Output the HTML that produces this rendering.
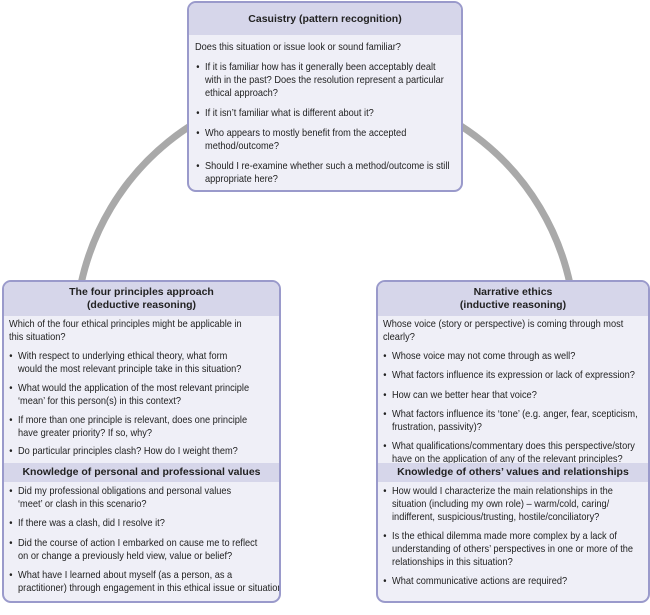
<!DOCTYPE html>
<html><head><meta charset="utf-8"><style>
body{margin:0;width:650px;height:615px;background:#fff;position:relative;overflow:hidden;font-family:"Liberation Sans",sans-serif;color:#222}
.box{position:absolute;background:#efeff7;border:2px solid #9a9acb;border-radius:9px;overflow:hidden}
.hd{position:absolute;left:0;right:0;background:#d6d6ea;font-weight:bold;text-align:center;font-size:10.5px;line-height:13px}
.l{position:absolute;font-size:10.5px;line-height:13px;white-space:nowrap;transform:scaleX(0.88);transform-origin:0 0}
.b::before{content:"•";position:absolute;left:-10px}
</style></head><body>
<svg width="650" height="615" style="position:absolute;left:0;top:0">
<path d="M81,284 A250,250 0 0 1 570,284" fill="none" stroke="#a9a9a9" stroke-width="7"/>
</svg>

<div class="box" style="left:187px;top:1px;width:272px;height:187px">
<div class="hd" style="top:0;height:32px;line-height:32px">Casuistry (pattern recognition)</div>
<div class="l" style="left:6px;top:38px">Does this situation or issue look or sound familiar?</div>
<div class="l b" style="left:16px;top:58px">If it is familiar how has it generally been acceptably dealt</div>
<div class="l" style="left:16px;top:71px">with in the past? Does the resolution represent a particular</div>
<div class="l" style="left:16px;top:84px">ethical approach?</div>
<div class="l b" style="left:16px;top:104px">If it isn’t familiar what is different about it?</div>
<div class="l b" style="left:16px;top:124px">Who appears to mostly benefit from the accepted</div>
<div class="l" style="left:16px;top:137px">method/outcome?</div>
<div class="l b" style="left:16px;top:157px">Should I re-examine whether such a method/outcome is still</div>
<div class="l" style="left:16px;top:170px">appropriate here?</div>
</div>

<div class="box" style="left:2px;top:280px;width:275px;height:319px">
<div class="hd" style="top:0;height:34px;padding-top:4px;box-sizing:border-box">The four principles approach<br>(deductive reasoning)</div>
<div class="l" style="left:5px;top:36px">Which of the four ethical principles might be applicable in</div>
<div class="l" style="left:5px;top:49px">this situation?</div>
<div class="l b" style="left:14px;top:68px">With respect to underlying ethical theory, what form</div>
<div class="l" style="left:14px;top:81px">would the most relevant principle take in this situation?</div>
<div class="l b" style="left:14px;top:100px">What would the application of the most relevant principle</div>
<div class="l" style="left:14px;top:113px">‘mean’ for this person(s) in this context?</div>
<div class="l b" style="left:14px;top:132px">If more than one principle is relevant, does one principle</div>
<div class="l" style="left:14px;top:145px">have greater priority? If so, why?</div>
<div class="l b" style="left:14px;top:163px">Do particular principles clash? How do I weight them?</div>
<div class="hd" style="top:181px;height:19px;line-height:19px">Knowledge of personal and professional values</div>
<div class="l b" style="left:14px;top:203px">Did my professional obligations and personal values</div>
<div class="l" style="left:14px;top:216px">‘meet’ or clash in this scenario?</div>
<div class="l b" style="left:14px;top:235px">If there was a clash, did I resolve it?</div>
<div class="l b" style="left:14px;top:255px">Did the course of action I embarked on cause me to reflect</div>
<div class="l" style="left:14px;top:268px">on or change a previously held view, value or belief?</div>
<div class="l b" style="left:14px;top:287px">What have I learned about myself (as a person, as a</div>
<div class="l" style="left:14px;top:300px">practitioner) through engagement in this ethical issue or situation?</div>
</div>

<div class="box" style="left:376px;top:280px;width:270px;height:319px">
<div class="hd" style="top:0;height:34px;padding-top:4px;box-sizing:border-box">Narrative ethics<br>(inductive reasoning)</div>
<div class="l" style="left:5px;top:36px">Whose voice (story or perspective) is coming through most</div>
<div class="l" style="left:5px;top:49px">clearly?</div>
<div class="l b" style="left:14px;top:68px">Whose voice may not come through as well?</div>
<div class="l b" style="left:14px;top:87px">What factors influence its expression or lack of expression?</div>
<div class="l b" style="left:14px;top:107px">How can we better hear that voice?</div>
<div class="l b" style="left:14px;top:126px">What factors influence its ‘tone’ (e.g. anger, fear, scepticism,</div>
<div class="l" style="left:14px;top:139px">frustration, passivity)?</div>
<div class="l b" style="left:14px;top:158px">What qualifications/commentary does this perspective/story</div>
<div class="l" style="left:14px;top:171px">have on the application of any of the relevant principles?</div>
<div class="hd" style="top:181px;height:19px;line-height:19px">Knowledge of others’ values and relationships</div>
<div class="l b" style="left:14px;top:203px">How would I characterize the main relationships in the</div>
<div class="l" style="left:14px;top:216px">situation (including my own role) – warm/cold, caring/</div>
<div class="l" style="left:14px;top:229px">indifferent, suspicious/trusting, hostile/conciliatory?</div>
<div class="l b" style="left:14px;top:248px">Is the ethical dilemma made more complex by a lack of</div>
<div class="l" style="left:14px;top:261px">understanding of others’ perspectives in one or more of the</div>
<div class="l" style="left:14px;top:274px">relationships in this situation?</div>
<div class="l b" style="left:14px;top:293px">What communicative actions are required?</div>
</div>
</body></html>
